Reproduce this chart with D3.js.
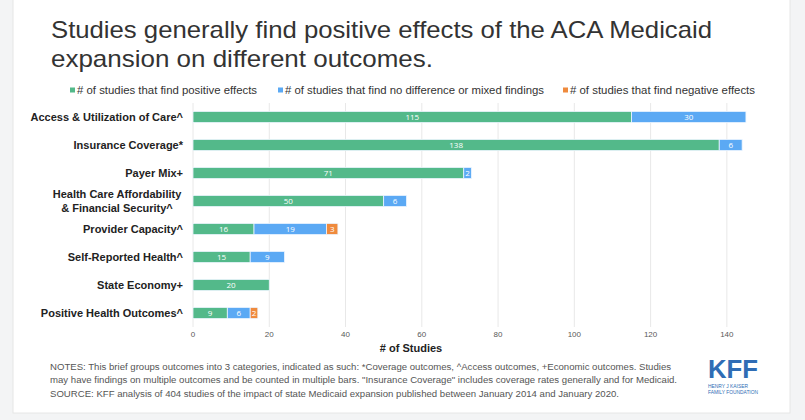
<!DOCTYPE html>
<html><head><meta charset="utf-8">
<script src="https://cdn.jsdelivr.net/npm/d3@7"></script>
<style>body{margin:0;background:#f4f5f6;}svg{display:block;font-family:"Liberation Sans",Arial,sans-serif;}</style>
</head><body>
<svg id="c" width="805" height="420"></svg>
<script>
const categories = ["Access & Utilization of Care^","Insurance Coverage*","Payer Mix+","Health Care Affordability\n& Financial Security^","Provider Capacity^","Self-Reported Health^","State Economy+","Positive Health Outcomes^"];
const positive = [115,138,71,50,16,15,20,9];
const noDiff = [30,6,2,6,19,9,0,6];
const negative = [0,0,0,0,3,0,0,2];
const tickValues = [0,20,40,60,80,100,120,140];
const seriesNames = ["# of studies that find positive effects","# of studies that find no difference or mixed findings","# of studies that find negative effects"];
const colors = ["#53b98a","#5ba9f4","#ef8a3d"];
const titleLines = ["Studies generally find positive effects of the ACA Medicaid","expansion on different outcomes."];
const notes = ["NOTES: This brief groups outcomes into 3 categories, indicated as such: *Coverage outcomes, ^Access outcomes, +Economic outcomes. Studies","may have findings on multiple outcomes and be counted in multiple bars. \"Insurance  Coverage\" includes coverage rates generally and for Medicaid.","SOURCE: KFF analysis of 404 studies of the impact of state Medicaid expansion published between January 2014 and January 2020."];

const svg = d3.select("#c");
svg.append("rect").attr("x",0).attr("y",0).attr("width",805).attr("height",420).attr("fill","#f3f4f5");
svg.append("rect").attr("x",13).attr("y",-2).attr("width",777).attr("height",415).attr("fill","#fff").attr("stroke","#e6e6e6");

// title
const titleLen = [661, 382];
svg.append("g").selectAll("text").data(titleLines).join("text")
  .attr("x",51).attr("y",(d,i)=>38+i*29).attr("font-size",24).attr("fill","#333")
  .attr("textLength",(d,i)=>titleLen[i]).attr("lengthAdjust","spacingAndGlyphs")
  .text(d=>d);

// legend
const legX = [70,278,563];
const legLen = [180,259,185];
const lg = svg.append("g");
seriesNames.forEach((n,i)=>{
  lg.append("rect").attr("x",legX[i]).attr("y",87.5).attr("width",5).attr("height",5).attr("fill",colors[i]);
  lg.append("text").attr("x",legX[i]+7).attr("y",90).attr("dy","0.35em").attr("font-size",10).attr("fill","#333")
    .attr("textLength",legLen[i]).attr("lengthAdjust","spacingAndGlyphs").text(n);
});

const x = d3.scaleLinear().domain([0,150]).range([193,765]);
const y = d3.scaleBand().domain(categories).range([103,327]).paddingInner(0.6).paddingOuter(0.3);

// grid
svg.append("g").selectAll("line").data(tickValues).join("line")
  .attr("x1",d=>x(d)).attr("x2",d=>x(d)).attr("y1",103).attr("y2",327)
  .attr("stroke","#e8e8e8").attr("stroke-width",1);
svg.append("g").selectAll("text").data(tickValues).join("text")
  .attr("x",d=>x(d)).attr("y",334).attr("dy","0.35em").attr("text-anchor","middle")
  .attr("font-size",8).attr("fill","#595959").text(d=>d);
svg.append("text").attr("x",411).attr("y",348).attr("dy","0.35em").attr("text-anchor","middle")
  .attr("font-size",11).attr("font-weight","bold").attr("fill","#222").text("# of Studies");

// bars
const rows = categories.map((c,i)=>({c, vals:[positive[i],noDiff[i],negative[i]]}));
const segs = [];
rows.forEach(r=>{let s=0; r.vals.forEach((v,k)=>{ if(v>0) segs.push({c:r.c,x0:s,x1:s+v,v,k}); s+=v;});});
const bg = svg.append("g");
bg.selectAll("rect").data(segs).join("rect")
  .attr("x",d=>x(d.x0)).attr("width",d=>x(d.x1)-x(d.x0))
  .attr("y",d=>y(d.c)).attr("height",y.bandwidth())
  .attr("fill",d=>colors[d.k]).attr("stroke","#eef6ff").attr("stroke-width",0.8);
bg.selectAll("text").data(segs).join("text")
  .attr("x",d=>(x(d.x0)+x(d.x1))/2).attr("y",d=>y(d.c)+y.bandwidth()/2).attr("dy","0.35em")
  .attr("text-anchor","middle").attr("font-size",8).attr("fill","#fff").attr("font-family","'Open Sans',sans-serif")
  .text(d=>d.v);

// category labels
const lab = svg.append("g").attr("font-size",11).attr("font-weight","bold").attr("fill","#222");
categories.forEach(c=>{
  const lines = c.split("\n");
  const cy = y(c)+y.bandwidth()/2;
  if(lines.length===1){
    lab.append("text").attr("x",183).attr("y",cy).attr("dy","0.35em").attr("text-anchor","end").text(c);
  } else {
    lines.forEach((l,i)=>lab.append("text").attr("x",117).attr("y",cy+(i-0.5)*14).attr("dy","0.35em").attr("text-anchor","middle").text(l));
  }
});

// notes
svg.append("g").selectAll("text").data(notes).join("text")
  .attr("x",50).attr("y",(d,i)=>[370,383,397][i]).attr("font-size",9.6).attr("fill","#555").text(d=>d);

// logo
const logo = svg.append("g").attr("fill","#2f6db5");
logo.append("text").attr("x",708).attr("y",378).attr("font-size",26).attr("font-weight","bold")
  .attr("textLength",50).attr("lengthAdjust","spacingAndGlyphs").text("KFF");
logo.append("text").attr("x",708).attr("y",388).attr("font-size",4.6).attr("textLength",40).attr("lengthAdjust","spacingAndGlyphs").text("HENRY J KAISER");
logo.append("text").attr("x",708).attr("y",393.5).attr("font-size",4.6).attr("textLength",50).attr("lengthAdjust","spacingAndGlyphs").text("FAMILY FOUNDATION");
</script>
</body></html>
